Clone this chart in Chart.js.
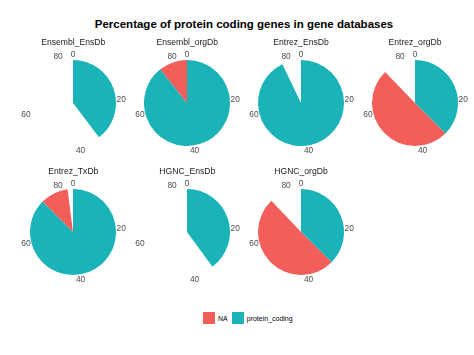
<!DOCTYPE html>
<html>
<head>
<meta charset="utf-8">
<script src="https://cdn.jsdelivr.net/npm/chart.js@4/dist/chart.umd.min.js"></script>
<style>
  html, body { margin:0; padding:0; background:#fff; }
  body { width:474px; height:355px; position:relative; overflow:hidden; font-family:"Liberation Sans", Arial, sans-serif; }
  .title { position:absolute; left:0; width:488px; top:17px; line-height:14px; text-align:center; font-weight:bold; font-size:11.5px; color:#000; }
  .strip { position:absolute; width:120px; text-align:center; font-size:8.6px; color:#1a1a1a; }
  canvas.facet { position:absolute; }
  .legend { position:absolute; top:312px; left:203px; height:12px; font-size:7px; color:#000; display:flex; align-items:center; }
  .key { width:12px; height:12px; display:inline-block; }
</style>
</head>
<body>
<div class="title">Percentage of protein coding genes in gene databases</div>
<div class="legend">
  <span class="key" style="background:#F35E5A"></span><span style="margin:0 4px 0 3px">NA</span>
  <span class="key" style="background:#1AB3B8"></span><span style="margin-left:3px">protein_coding</span>
</div>
<script>
// ---- data ----
const facets = ['Ensembl_EnsDb','Ensembl_orgDb','Entrez_EnsDb','Entrez_orgDb','Entrez_TxDb','HGNC_EnsDb','HGNC_orgDb'];
const proteinCoding = [33.4, 75.2, 78.2, 31.6, 73.7, 33.6, 31.5];
const naValues      = [0,    9.0,  0,    42.3, 8.8,  0,    42.5];
const thetaTicks = [0, 20, 40, 60, 80];
const seriesNames = ['protein_coding', 'NA'];

// ---- styles / layout ----
const colors = { protein_coding: '#1AB3B8', NA: '#F35E5A' };
const colCenters = [73.3, 187.3, 301, 415];
const rowCenters = [102.5, 232];
const cellSize = 120;
const pieRadius = 43;

const totals = proteinCoding.map((v, i) => v + naValues[i]);
const thetaMax = Math.max(...totals);

const tickPlugin = {
  id: 'thetaTicks',
  afterDraw(chart) {
    const ctx = chart.ctx;
    const a = chart.chartArea;
    const cx = (a.left + a.right) / 2, cy = (a.top + a.bottom) / 2;
    const r = pieRadius * 0.45 / 0.4;
    ctx.save();
    ctx.font = '8.4px "Liberation Sans", Arial, sans-serif';
    ctx.fillStyle = '#4d4d4d';
    ctx.textAlign = 'center';
    ctx.textBaseline = 'middle';
    thetaTicks.forEach(t => {
      const th = t / thetaMax * 2 * Math.PI;
      ctx.fillText(String(t), cx + r * Math.sin(th), cy - r * Math.cos(th));
    });
    ctx.restore();
  }
};

facets.forEach((name, i) => {
  const col = i % 4, row = Math.floor(i / 4);
  const cx = colCenters[col], cy = rowCenters[row];
  const cv = document.createElement('canvas');
  cv.className = 'facet';
  cv.width = cellSize; cv.height = cellSize;
  cv.style.width = cellSize + 'px'; cv.style.height = cellSize + 'px';
  cv.style.left = (cx - cellSize / 2) + 'px';
  cv.style.top = (cy - cellSize / 2) + 'px';
  document.body.appendChild(cv);

  const lab = document.createElement('div');
  lab.className = 'strip';
  lab.textContent = name;
  lab.style.left = (cx - 60) + 'px';
  lab.style.top = (cy - 66) + 'px';
  document.body.appendChild(lab);

  const pc = proteinCoding[i], na = naValues[i];
  new Chart(cv, {
    type: 'pie',
    data: {
      labels: [seriesNames[0], seriesNames[1], ''],
      datasets: [{
        data: [pc, na, thetaMax - pc - na],
        backgroundColor: [colors.protein_coding, colors.NA, 'rgba(0,0,0,0)'],
        borderWidth: 0,
        hoverOffset: 0
      }]
    },
    options: {
      responsive: false,
      animation: false,
      rotation: 0,
      circumference: 360,
      layout: { padding: (cellSize - 2 * pieRadius) / 2 },
      plugins: { legend: { display: false }, tooltip: { enabled: false }, title: { display: false } },
      events: []
    },
    plugins: [tickPlugin]
  });
});
</script>
</body>
</html>
